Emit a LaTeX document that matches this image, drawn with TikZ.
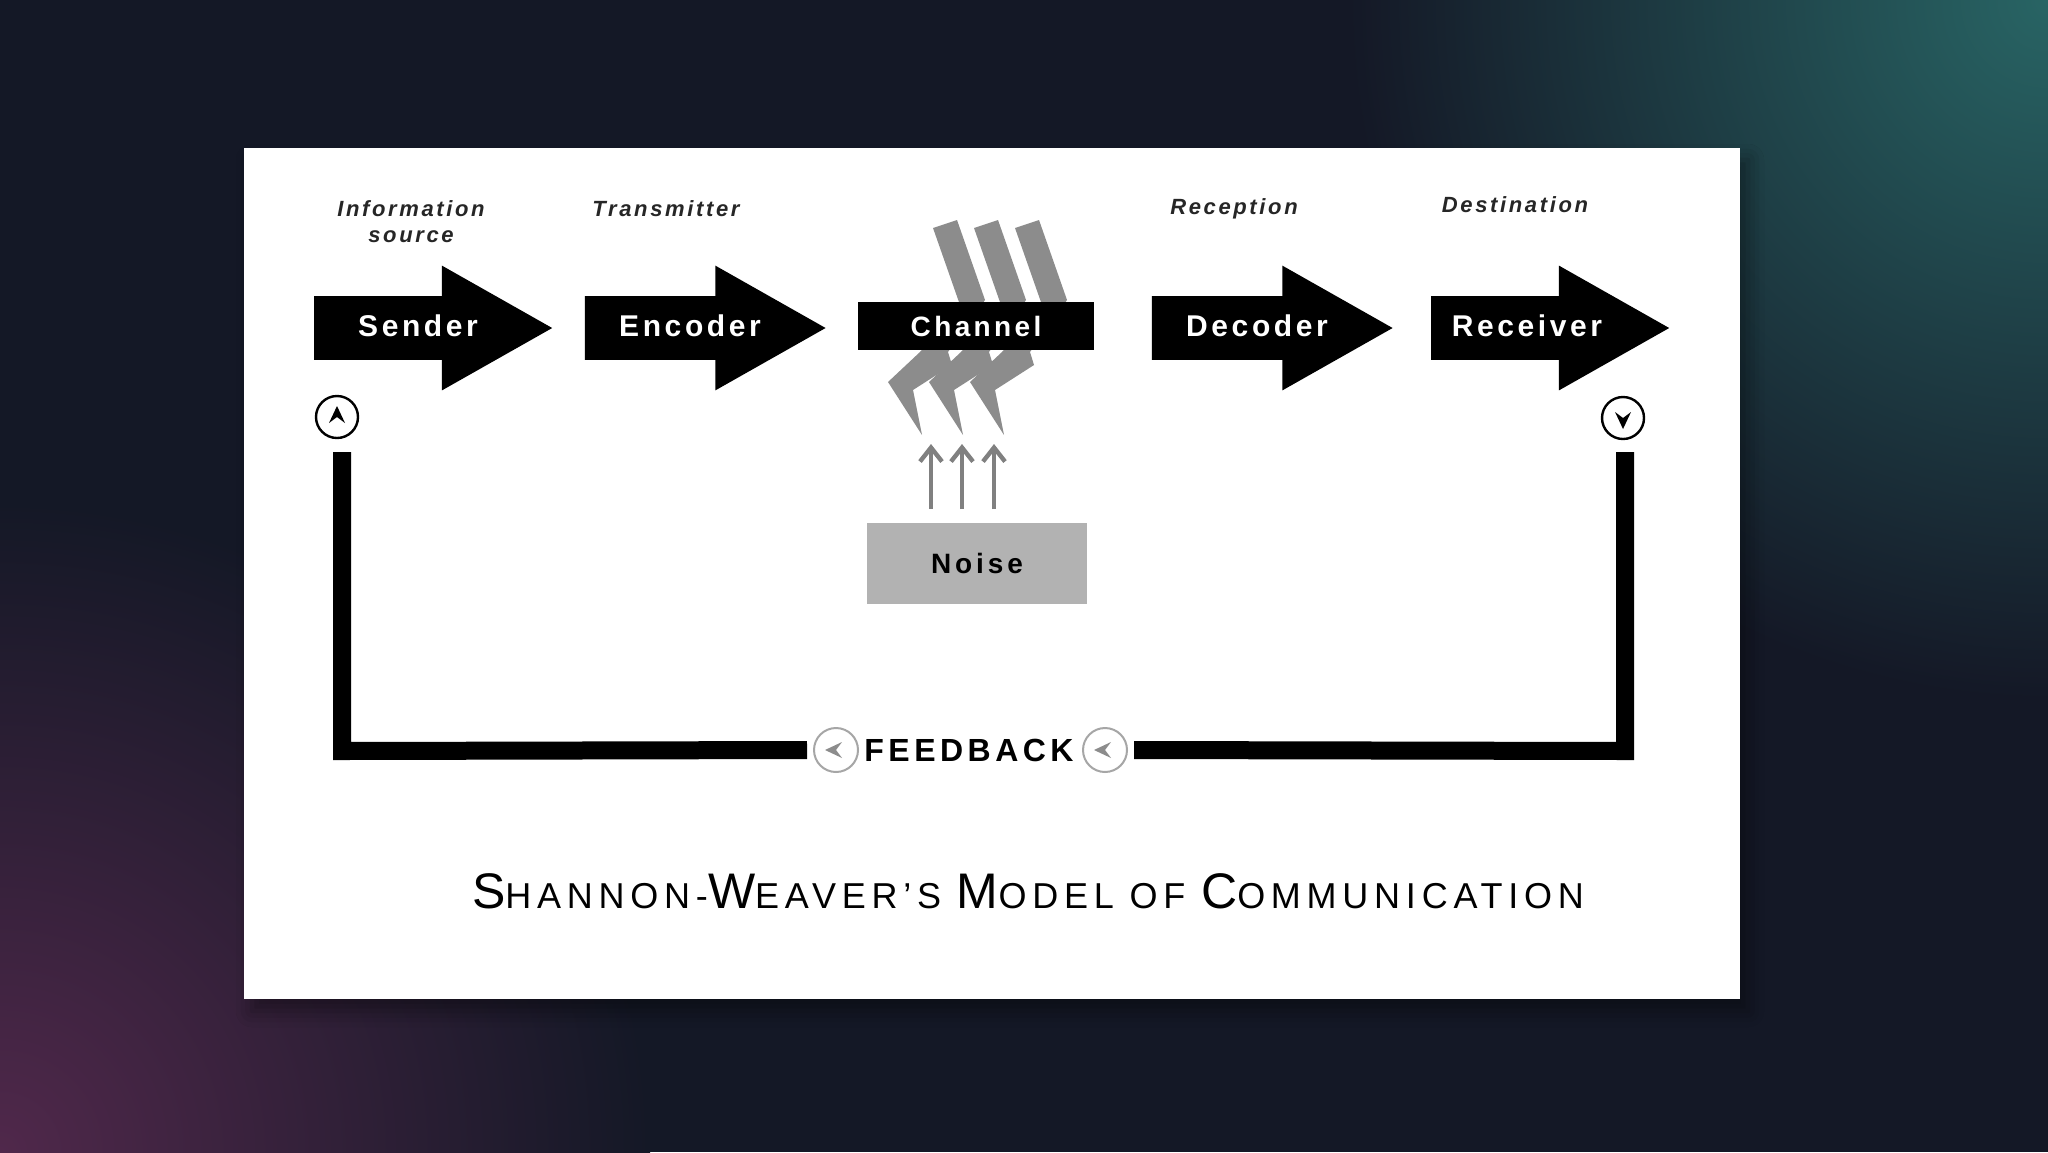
\documentclass[tikz,border=0pt]{standalone}
\usepackage{fontspec}
\setmainfont{Liberation Sans}
\usetikzlibrary{shapes.arrows,shadows.blur,arrows.meta}
\definecolor{bgbase}{RGB}{20,24,38}
\definecolor{bgteal}{RGB}{40,100,100}
\definecolor{bgpurp}{RGB}{80,40,75}
\begin{document}
\begin{tikzpicture}[x=0.5pt,y=-0.5pt,
  flow/.style={single arrow, fill=black, text=white, single arrow head extend=15.25pt,
    single arrow tip angle=59, minimum height=119pt, text height=8pt, text depth=0pt,
    inner ysep=11.75pt, inner xsep=4pt, font=\bfseries\fontsize{15}{18}\selectfont\addfontfeatures{LetterSpace=12}},
  lab/.style={font=\bfseries\itshape\fontsize{11}{13}\selectfont\addfontfeatures{LetterSpace=12}, align=center, text=black!85},
  bolt/.style={fill=black!45, draw=none},
  fb/.style={line width=9pt, black},
  ring/.style={circle, draw=black, line width=1.2pt, minimum size=21pt, inner sep=0pt},
  gring/.style={circle, draw=black!35, line width=1pt, minimum size=22pt, inner sep=0pt}]
\useasboundingbox (0,0) rectangle (2048,1152);
% background
\fill[bgbase] (0,0) rectangle (2048,1152);
\begin{scope}
\clip (0,0) rectangle (2048,1152);
\shade[inner color=bgteal, outer color=bgbase] (2048,0) circle (700);
\shade[inner color=bgpurp, outer color=bgbase] (0,1152) circle (650);
\end{scope}
% card
\fill[white, blur shadow={shadow xshift=4pt, shadow yshift=-6pt, shadow blur radius=8pt}] (244,148) rectangle (1740,999);
% labels
\node[lab] (l1) at (411,222) {Information\\source};
\node[lab] (l2) at (666,209) {Transmitter};
\node[lab] (l3) at (1234,209) {Reception};
\node[lab] (l4) at (1515,205) {Destination};
% bolts
\foreach \d in {0,41,82}{
  \fill[bolt, xshift=\d*0.5pt] (933,228)--(957,220)--(985,300)--(948,352)--(952,365)--(913,390)--(922,435)--(888,382)--(920,352)--(960,305)--cycle;
}
% arrows
\node[flow] (sender) at (405,328) {\hspace*{13pt}Sender};
\node[flow] (encoder) at (677,328) {\hspace*{13pt}Encoder};
\node[flow] (decoder) at (1244,328) {\hspace*{13pt}Decoder};
\node[flow] (receiver) at (1522,328) {\hspace*{5pt}Receiver};
\node[fill=black, text=white, minimum width=118pt, minimum height=24pt, inner sep=0pt,
  font=\bfseries\fontsize{14}{17}\selectfont\addfontfeatures{LetterSpace=12}] (channel) at (976,326) {Channel};
% noise
\node[fill=black!30, minimum width=110pt, minimum height=40.5pt, inner sep=0pt,
  font=\bfseries\fontsize{14}{17}\selectfont\addfontfeatures{LetterSpace=14}] (noise) at (977,563) {Noise};
\foreach \x/\n in {931/a,962/b,994/c}{
  \coordinate (n\n) at (\x,509);
  \coordinate (m\n) at (\x,444);
  \draw[black!50, line width=2.2pt, -{Straight Barb[length=7pt,width=11pt]}] (n\n) -- (m\n);
}
% feedback loop
\node[ring] (cl) at (337,417) {};
\fill (cl.center) ++(0,-11) -- ++(8,17) -- ++(-8,-6) -- ++(-8,6) -- cycle;
\node[ring] (cr) at (1623,418) {};
\fill (cr.center) ++(0,11) -- ++(8,-17) -- ++(-8,6) -- ++(-8,-6) -- cycle;
\node[font=\bfseries\fontsize{16}{19}\selectfont\addfontfeatures{LetterSpace=14}] (fb) at (969,750) {FEEDBACK};
\node[gring] (fl) at (836,750) {};
\fill[black!45] (fl.center) ++(-11,0) -- ++(17,-8) -- ++(-6,8) -- ++(6,8) -- cycle;
\node[gring] (fr) at (1105,750) {};
\fill[black!45] (fr.center) ++(-11,0) -- ++(17,-8) -- ++(-6,8) -- ++(6,8) -- cycle;
\coordinate (a1) at (342,452);
\coordinate (a2) at (342,751);
\coordinate (b1) at (1625,452);
\coordinate (b2) at (1625,751);
\draw[fb] (a1) -- (a2) -- ([xshift=-3pt]fl.west);
\draw[fb] (b1) -- (b2) -- ([xshift=3pt]fr.east);
% title
\node[font=\fontsize{18}{22}\selectfont\addfontfeatures{LetterSpace=16}] (title) at (1028,891)
 {{\fontsize{25}{28}\selectfont S}HANNON-{\fontsize{25}{28}\selectfont W}EAVER'S {\fontsize{25}{28}\selectfont M}ODEL OF {\fontsize{25}{28}\selectfont C}OMMUNICATION};
\end{tikzpicture}
\end{document}
